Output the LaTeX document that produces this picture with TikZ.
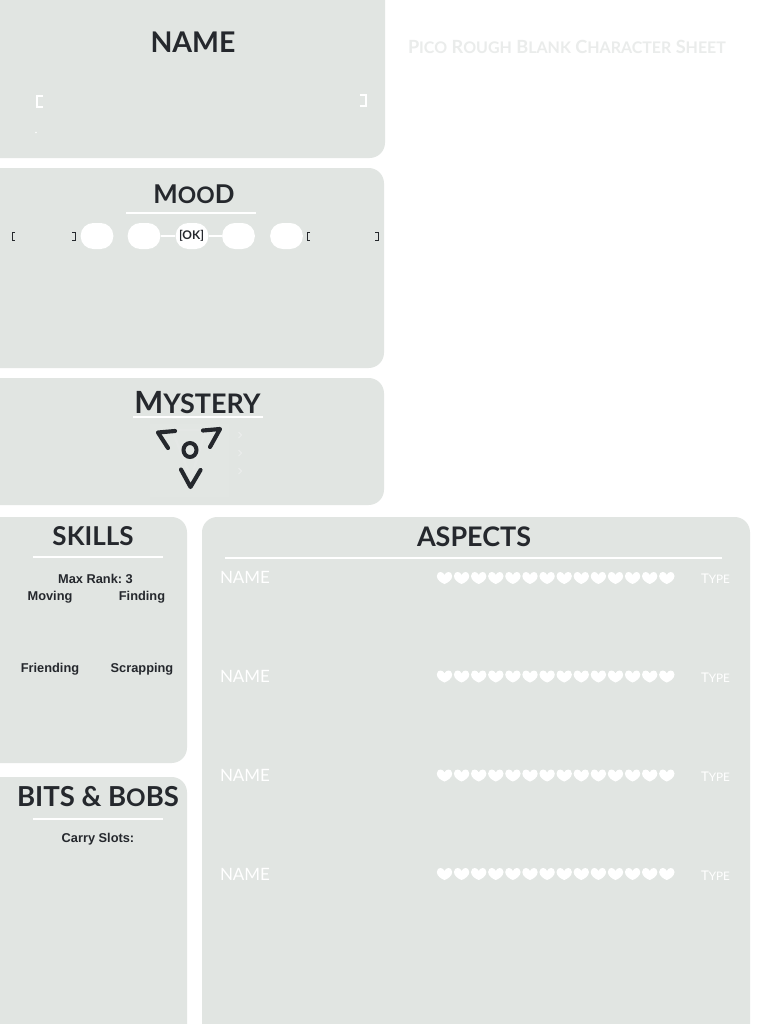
\documentclass[tikz,border=0pt]{standalone}
\usepackage{graphicx}
\usepackage{fontspec}
\setmainfont{Lato}
\newfontfamily\bodyfont{Liberation Sans}
\frenchspacing
\definecolor{panelc}{HTML}{E1E5E2}
\definecolor{inkc}{HTML}{25282D}
\definecolor{titlec}{HTML}{EAECEB}
\definecolor{faintc}{HTML}{E4E7E5}
\definecolor{facec}{HTML}{E6E8E7}
\newcommand{\smol}[1]{\scalebox{0.88}{#1}}
\newcommand{\fit}[2]{\resizebox{\dimexpr #1pt*3/4\relax}{!}{#2}}
\tikzset{
  panel/.style={fill=panelc,draw=none,rounded corners=11.5pt},
  headtext/.style={text=inkc,font=\fontsize{21}{21}\selectfont\bfseries,inner sep=0pt,anchor=center},
  ruleline/.style={draw=white,line width=1.7pt},
  skilltext/.style={text=inkc,font=\bodyfont\fontsize{9.6}{10}\selectfont\bfseries,inner sep=0pt,anchor=center},
  pill/.style={fill=white,draw=none,rounded corners=9.5pt,minimum width=24.5pt,minimum height=19.5pt,inner sep=0pt},
  aspectname/.style={text=white,font=\fontsize{11.5}{12}\selectfont,inner sep=0pt,anchor=center},
  aspecttype/.style={text=white,font=\fontsize{8.5}{9}\selectfont,inner sep=0pt,anchor=center},
  whitebracket/.style={draw=white,line width=1.3pt},
  inkbracket/.style={draw=inkc,line width=0.65pt},
  glyph/.style={draw=inkc,line width=3.1pt,line cap=round,line join=round},
  heart/.pic={\fill[white] (0,6) .. controls (-3,5) and (-7.7,2) .. (-7.7,-2) .. controls (-7.7,-5) and (-5.5,-6) .. (-4,-6) .. controls (-2.2,-6) and (-0.7,-4.8) .. (0,-3) .. controls (0.7,-4.8) and (2.2,-6) .. (4,-6) .. controls (5.5,-6) and (7.7,-5) .. (7.7,-2) .. controls (7.7,2) and (3,5) .. (0,6) -- cycle;}
}
\begin{document}
\begin{tikzpicture}[x=0.75pt,y=-0.75pt]
\clip (0,0) rectangle (768,1024);
\fill[white] (0,0) rectangle (768,1024);
% panels
\path[panel] (-30,-30) rectangle (385,158);
\path[panel] (-30,168) rectangle (384,368);
\path[panel] (-30,378) rectangle (384,505);
\path[panel] (-30,517) rectangle (187,763);
\path[panel] (-30,777) rectangle (187,1060);
\path[panel] (202,517) rectangle (750,1060);
% sheet title
\node[inner sep=0pt,text=titlec,font=\fontsize{14}{14}\selectfont\bfseries] (sheettitle) at (567,47) {\fit{318}{P\smol{ICO} R\smol{OUGH} B\smol{LANK} C\smol{HARACTER} S\smol{HEET}}};
% name panel
\node[headtext] (namehead) at (193,42) {\fit{85}{NAME}};
\draw[whitebracket] (43,96) -- (37,96) -- (37,107) -- (43,107);
\draw[whitebracket] (360,95) -- (366,95) -- (366,106) -- (360,106);
\fill[white] (36,132.5) circle (0.8);
% mood panel
\node[headtext] (moodhead) at (194,194.5) {\fit{81}{M\smol{OO}D}};
\draw[ruleline] (126,213) -- (256,213);
\node[pill] (p1) at (97,236) {};
\node[pill] (p2) at (144,236) {};
\node[pill] (p3) at (192,236) {};
\node[pill] (p4) at (238.5,236) {};
\node[pill] (p5) at (286.5,236) {};
\draw[draw=white,line width=0.8pt] (p2) -- (p3);
\draw[draw=white,line width=0.8pt] (p3) -- (p4);
\node[inner sep=0pt,text=inkc,font=\fontsize{7.5}{8}\selectfont\bfseries] (oklabel) at (191.5,236) {\fit{25}{[OK]}};
\draw[inkbracket] (15,232.5) -- (12,232.5) -- (12,240) -- (15,240);
\draw[inkbracket] (72,232.5) -- (75.5,232.5) -- (75.5,240) -- (72,240);
\draw[inkbracket] (310,232.5) -- (307,232.5) -- (307,240) -- (310,240);
\draw[inkbracket] (375,232.5) -- (378.5,232.5) -- (378.5,240) -- (375,240);
% mystery panel
\node[headtext] (mysteryhead) at (197.5,402.5) {\fit{126}{M\smol{YSTERY}}};
\draw[ruleline] (133,417) -- (263,417);
\fill[facec,opacity=0.35] (150,424) rectangle (229,497);
\draw[draw=faintc,line width=2pt] (172,430) -- (206,430) -- (191,478) -- cycle;
\draw[glyph] (175,431) -- (158,432.5) -- (168,448);
\draw[glyph] (203,430.5) -- (220,429) -- (210,447);
\draw[glyph] (181,469.5) -- (190.5,487) -- (200.5,470);
\draw[draw=inkc,line width=3pt] (190,450) ellipse (6.5 and 7);
\foreach \cy in {435,453,471}
  \draw[draw=titlec,line width=0.8pt] (238.5,\cy-3) -- (241.5,\cy) -- (238.5,\cy+3);
% skills panel
\node[headtext] (skillshead) at (93,536.5) {\fit{81}{SKILLS}};
\draw[ruleline] (33,557) -- (163,557);
\node[skilltext] (maxrank) at (95.5,579) {Max Rank: 3};
\node[skilltext] (moving) at (50,597.5) {Moving};
\node[skilltext] (finding) at (142,597.5) {Finding};
\node[skilltext] (friending) at (50,669.5) {Friending};
\node[skilltext] (scrapping) at (142,669.5) {Scrapping};
% bits panel
\node[headtext] (bitshead) at (98,796.5) {\fit{162}{BITS \& B\smol{O}BS}};
\draw[ruleline] (33,819) -- (163,819);
\node[skilltext] (carry) at (98,839) {Carry Slots:};
% aspects panel
\node[headtext] (aspectshead) at (474,536.5) {\fit{114}{ASPECTS}};
\draw[ruleline] (225,558) -- (722,558);
\foreach \i/\ny/\hy/\ty in {1/577/578/578.5,2/676.5/676.5/678,3/775/775.5/776.5,4/874/874/875.5}{
  \node[aspectname] (aspectname\i) at (245,\ny) {\fit{50}{NAME}};
  \node[aspecttype] (aspecttype\i) at (715.5,\ty) {\fit{29}{T\smol{YPE}}};
  \foreach \k in {0,...,13}
    \pic at ({444.5+\k*17.1},\hy) {heart};
}
\end{tikzpicture}
\end{document}
